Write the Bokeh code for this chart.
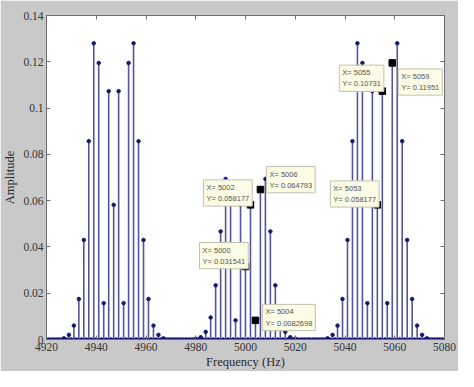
from bokeh.plotting import figure
from bokeh.models import (LinearAxis, FixedTicker, CustomJSTickFormatter, Label,
                          ColumnDataSource, Range1d)
from bokeh.embed import file_html
from bokeh.resources import INLINE

# ---------------- data ----------------
left_freqs = [4927, 4929, 4931, 4933, 4935, 4937, 4939, 4941, 4943, 4945, 4947,
              4949, 4951, 4953, 4955, 4957, 4959, 4961, 4963, 4965, 4967]
left_amps = [0.0005, 0.002, 0.006, 0.0175, 0.043, 0.0857, 0.128, 0.11951, 0.0157, 0.10731, 0.058177,
             0.10731, 0.0157, 0.11951, 0.128, 0.0857, 0.043, 0.0175, 0.006, 0.002, 0.0005]

mid_freqs = [4980, 4982, 4984, 4986, 4988, 4990, 4992, 4994, 4996, 4998, 5000,
             5002, 5004, 5006, 5008, 5010, 5012, 5014, 5016, 5018, 5020]
mid_amps = [0.0003, 0.001, 0.0033, 0.0095, 0.0234, 0.0467, 0.0694, 0.064793, 0.0082698, 0.058177, 0.031541,
            0.058177, 0.0082698, 0.064793, 0.0694, 0.0467, 0.0234, 0.0095, 0.0033, 0.001, 0.0003]

right_freqs = [5033, 5035, 5037, 5039, 5041, 5043, 5045, 5047, 5049, 5051, 5053,
               5055, 5057, 5059, 5061, 5063, 5065, 5067, 5069, 5071, 5073]
right_amps = [0.0005, 0.002, 0.006, 0.0175, 0.043, 0.0857, 0.128, 0.11951, 0.0157, 0.10731, 0.058177,
              0.10731, 0.0157, 0.11951, 0.128, 0.0857, 0.043, 0.0175, 0.006, 0.002, 0.0005]

# full 1 Hz grid; bins not listed above are zero
grid_start, grid_end = 4920, 5080

tip_x = [5002, 5000, 5006, 5004, 5055, 5059, 5053]
tip_y = [0.058177, 0.031541, 0.064793, 0.0082698, 0.10731, 0.11951, 0.058177]
tip_text = ["0.058177", "0.031541", "0.064793", "0.0082698", "0.10731", "0.11951", "0.058177"]
# box top-left offset from the point, in screen pixels (right, down)
tip_dx = [-50, -49, 3, 4, -46, 3, -50]
tip_dy = [-28, -27, -26, -19, -29, 3, -27]

x_ticks = [4920, 4940, 4960, 4980, 5000, 5020, 5040, 5060, 5080]
y_ticks = [0, 0.02, 0.04, 0.06, 0.08, 0.1, 0.12, 0.14]

# ---------------- build ----------------
amp = {f: 0.0 for f in range(grid_start, grid_end + 1)}
for fs, as_ in ((left_freqs, left_amps), (mid_freqs, mid_amps), (right_freqs, right_amps)):
    for f, a in zip(fs, as_):
        amp[f] = a
freqs = list(amp.keys())
amps = list(amp.values())
src = ColumnDataSource(dict(f=freqs, a=amps, z=[0.0] * len(freqs)))

BG = "#c9c9c9"
p = figure(width=458, height=371, output_backend="svg", toolbar_location=None,
           x_range=Range1d(4920, 5080), y_range=Range1d(0, 0.14),
           background_fill_color="white", border_fill_color=BG,
           min_border_left=40, min_border_right=14, min_border_top=15, min_border_bottom=29)
p.grid.visible = False
p.outline_line_color = "#6e6e6e"

stem_col = "#55559c"
p.segment(x0="f", y0="z", x1="f", y1="a", source=src, line_color=stem_col, line_width=1.6)
p.line(x=[grid_start, grid_end], y=[0, 0], line_color="#1f2aa8", line_width=2.5)
p.scatter(x="f", y="a", source=src, marker="circle", size=3.5,
          fill_color="#181870", line_color="#181870")

# datatip markers
p.scatter(x=tip_x, y=tip_y, marker="square", size=6.5, fill_color="black", line_color="black")

# axes styling
def style_axis(ax):
    ax.axis_line_color = "#6e6e6e"
    ax.major_tick_line_color = "#6e6e6e"
    ax.major_tick_in = 4
    ax.major_tick_out = 0
    ax.minor_tick_line_color = None
    ax.major_label_text_font = "Liberation Serif"
    ax.major_label_text_font_size = "11.5px"
    ax.major_label_text_color = "#333333"
    ax.axis_label_text_font = "Liberation Serif"
    ax.axis_label_text_font_size = "12.5px"
    ax.axis_label_text_font_style = "normal"
    ax.axis_label_text_color = "#2a2a2a"

p.xaxis.ticker = FixedTicker(ticks=x_ticks)
p.yaxis.ticker = FixedTicker(ticks=y_ticks)
p.yaxis.formatter = CustomJSTickFormatter(
    code="var s = tick.toFixed(2); s = s.replace(/0+$/, ''); s = s.replace(/\\.$/, ''); return s;")
p.xaxis.axis_label = "Frequency (Hz)"
p.yaxis.axis_label = "Amplitude"
for ax in p.xaxis + p.yaxis:
    style_axis(ax)
p.xaxis.major_label_standoff = 3
p.xaxis.axis_label_standoff = 1
p.yaxis.major_label_standoff = 3
p.yaxis.axis_label_standoff = 3

# box axes (top and right) with inward ticks, no labels
top_ax = LinearAxis(ticker=FixedTicker(ticks=x_ticks))
right_ax = LinearAxis(ticker=FixedTicker(ticks=y_ticks))
for ax in (top_ax, right_ax):
    style_axis(ax)
    ax.major_label_text_font_size = "1px"
    ax.major_label_standoff = 0
    ax.major_label_text_alpha = 0
    ax.formatter = CustomJSTickFormatter(code="return '';")
p.add_layout(top_ax, "above")
p.add_layout(right_ax, "right")

# datatips
pad = 3
for x, y, t, dx, dy in zip(tip_x, tip_y, tip_text, tip_dx, tip_dy):
    lab = Label(x=x, y=y, x_offset=dx + pad, y_offset=-(dy + pad),
                text=f"X= {x}\nY= {t}", text_align="left", text_baseline="top",
                text_font="Liberation Sans", text_font_size="7.5px", text_color="#555555",
                text_line_height=1.25,
                background_fill_color="#fbfbe6", background_fill_alpha=1.0,
                border_line_color="#c2c2b0", border_line_width=1, padding=pad)
    p.add_layout(lab)

open("out.html", "w").write(file_html(p, INLINE))
